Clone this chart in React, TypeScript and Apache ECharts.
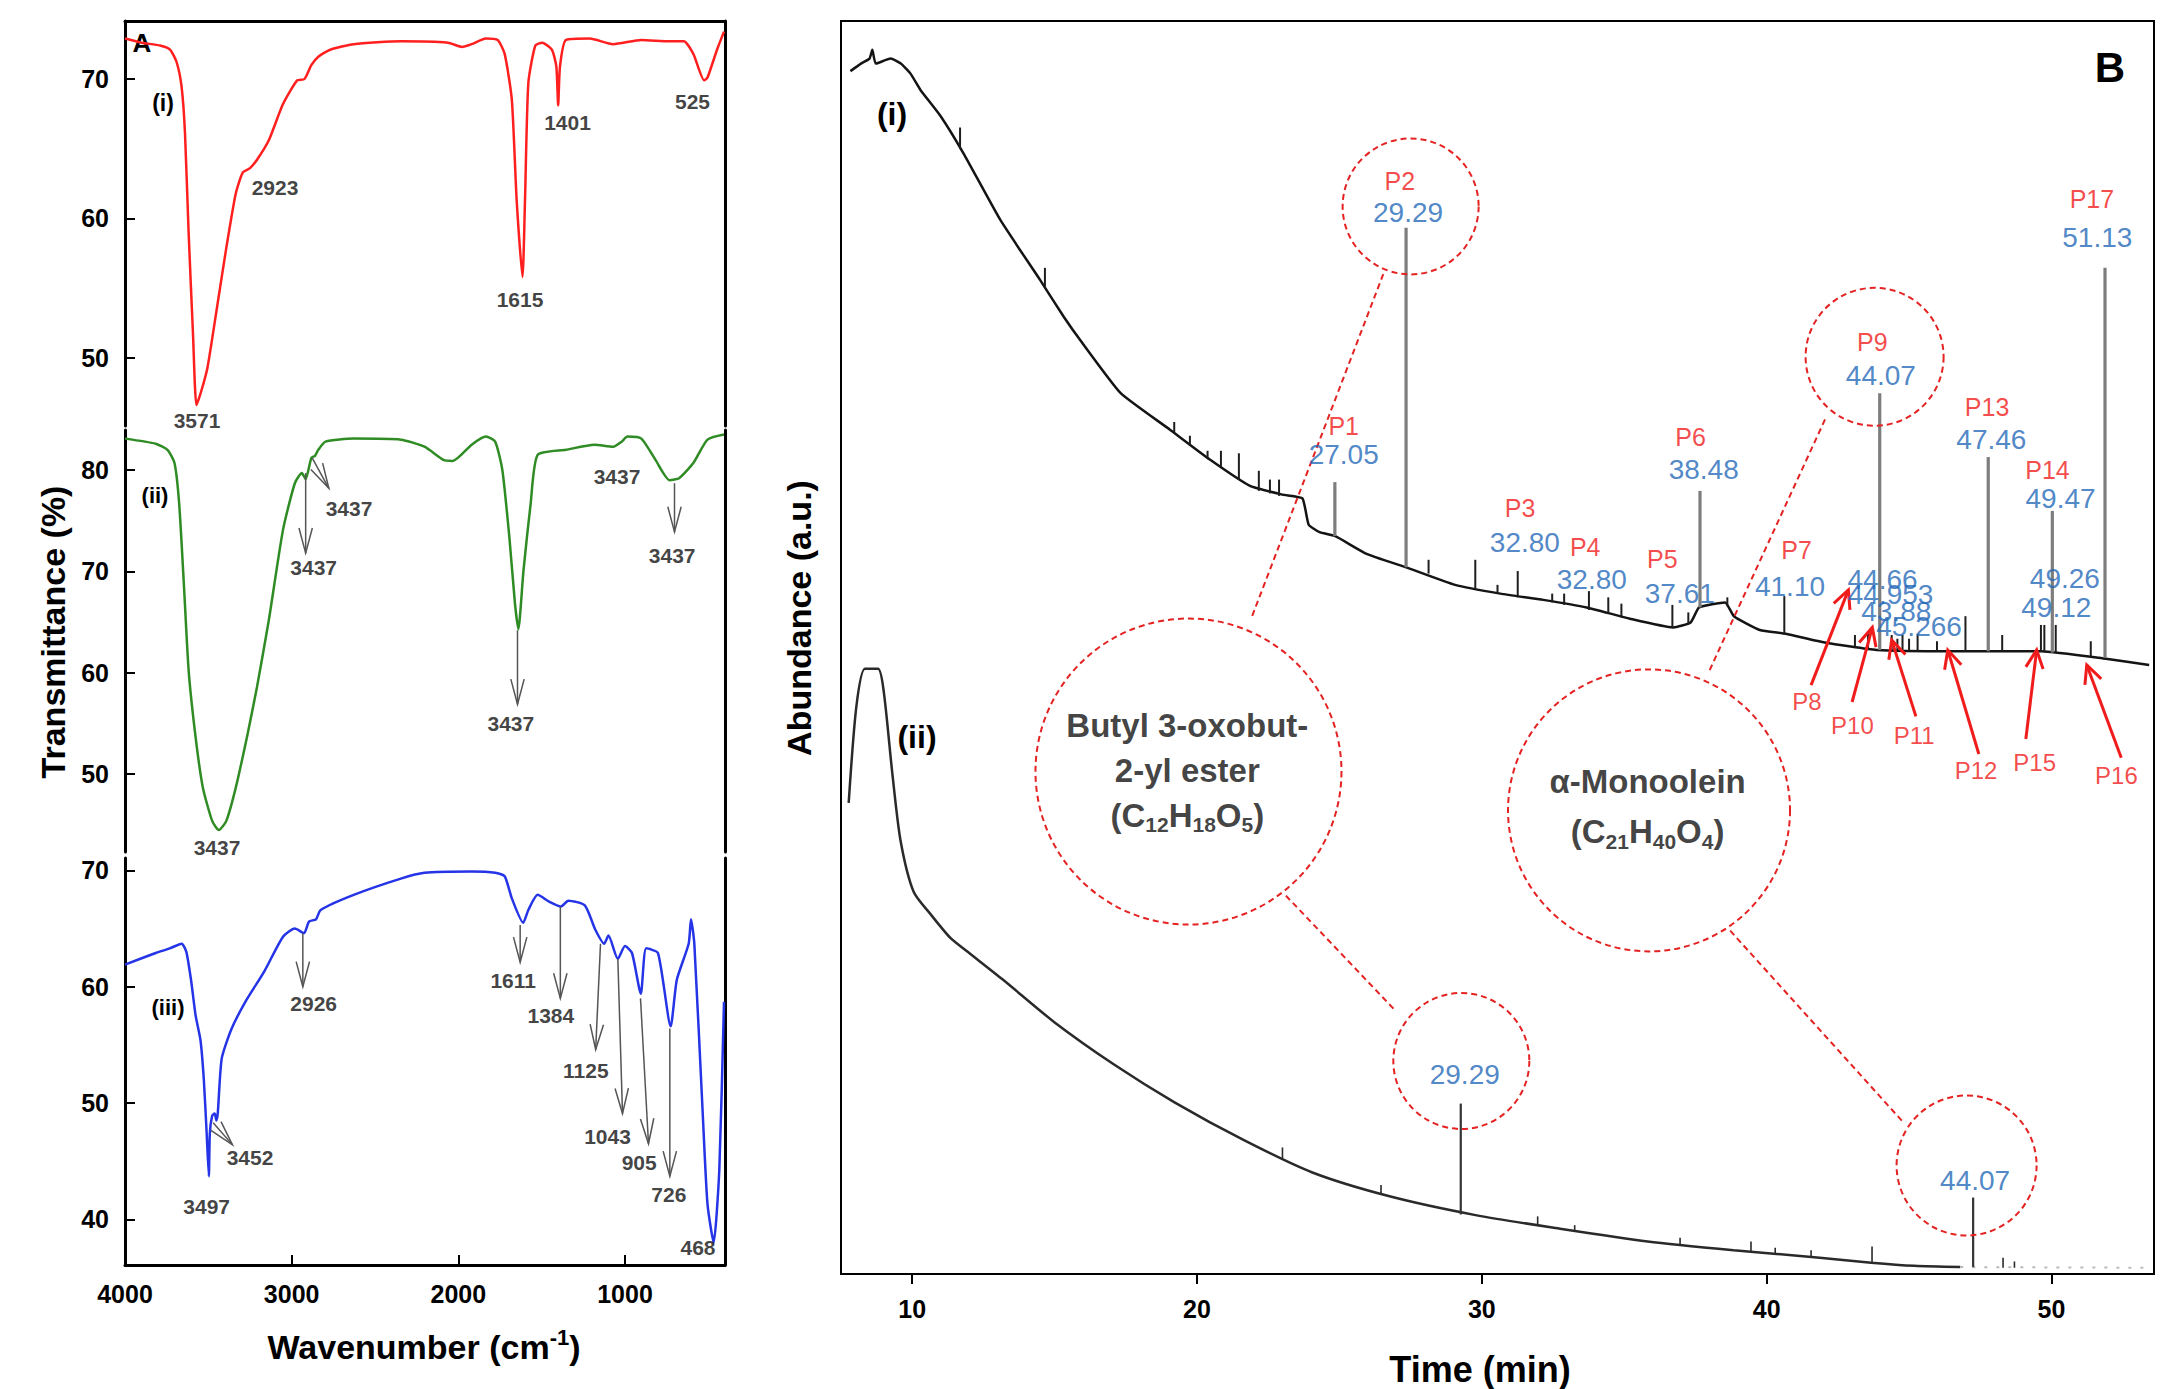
import React, { useEffect, useRef } from "react";
import * as echarts from "echarts";

const FONT = '"Liberation Sans", Arial, Helvetica, sans-serif';

// ---------- Panel A: FTIR spectra ----------
const wavenumberTicks = [1000, 2000, 3000, 4000];
const transTicksI = [50, 60, 70];
const transTicksII = [50, 60, 70, 80];
const transTicksIII = [40, 50, 60, 70];

// [wavenumber (cm-1), transmittance (%)]
const ftirSpectrumI = [
  [4000, 72.9], [3900, 72.6], [3790, 72.4], [3730, 72.1], [3690, 71.2], [3660, 69.4], [3640, 66.1],
  [3618, 58.9], [3592, 51.7], [3571, 46.6], [3540, 47.7], [3505, 49.3], [3448, 53.6], [3392, 57.9],
  [3335, 61.8], [3293, 63.3], [3250, 63.6], [3208, 64.2], [3137, 65.6], [3052, 68.2], [2967, 69.9],
  [2923, 70.0], [2882, 71.0], [2840, 71.6], [2769, 72.1], [2628, 72.5], [2345, 72.7], [2062, 72.6],
  [1977, 72.3], [1920, 72.5], [1835, 72.9], [1764, 72.8], [1722, 71.8], [1679, 68.5], [1650, 61.3],
  [1615, 55.8], [1600, 61.3], [1580, 69.7], [1538, 72.4], [1496, 72.6], [1439, 72.1], [1412, 70.9],
  [1401, 68.1], [1390, 70.9], [1354, 72.8], [1213, 72.9], [1071, 72.5], [903, 72.8], [732, 72.7],
  [647, 72.7], [590, 71.8], [525, 69.9], [505, 70.1], [448, 72.1], [406, 73.4],
];

const ftirSpectrumII = [
  [4000, 83.1], [3816, 82.6], [3745, 82.0], [3703, 80.7], [3675, 76.7], [3646, 68.5], [3618, 60.2],
  [3576, 53.6], [3533, 48.7], [3477, 45.4], [3437, 44.5], [3392, 45.4], [3335, 48.7], [3264, 54.0],
  [3208, 58.6], [3137, 65.2], [3052, 74.1], [2981, 78.7], [2939, 79.7], [2916, 79.1], [2882, 81.2],
  [2860, 81.4], [2840, 82.0], [2797, 82.8], [2628, 83.1], [2345, 83.0], [2203, 82.3], [2090, 81.0],
  [2033, 80.9], [1920, 82.5], [1835, 83.3], [1779, 82.8], [1736, 80.0], [1694, 73.4], [1660, 66.8],
  [1640, 64.3], [1609, 70.1], [1566, 76.7], [1524, 81.5], [1354, 82.0], [1184, 82.5], [1071, 82.3],
  [1020, 82.8], [986, 83.3], [902, 83.1], [817, 81.0], [732, 79.0], [675, 79.2], [590, 80.7],
  [505, 83.0], [406, 83.5],
];

const ftirSpectrumIII = [
  [4000, 61.9], [3816, 62.9], [3731, 63.3], [3660, 63.7], [3632, 63.0], [3604, 60.6], [3576, 57.5],
  [3547, 55.4], [3527, 52.0], [3510, 47.4], [3497, 43.7], [3491, 47.4], [3477, 48.9], [3462, 49.1],
  [3452, 48.5], [3443, 49.2], [3420, 53.8], [3363, 56.3], [3278, 58.7], [3165, 61.3], [3052, 64.3],
  [2981, 65.0], [2926, 64.6], [2896, 65.6], [2854, 65.8], [2826, 66.6], [2628, 67.9], [2345, 69.3],
  [2203, 69.8], [1920, 69.9], [1779, 69.8], [1722, 69.5], [1679, 67.6], [1611, 65.5], [1580, 66.6],
  [1524, 67.9], [1453, 67.3], [1384, 66.9], [1340, 67.4], [1241, 67.0], [1178, 64.9], [1125, 63.7],
  [1099, 64.4], [1043, 62.4], [1000, 63.5], [958, 62.9], [905, 59.4], [873, 63.3], [802, 62.9],
  [726, 56.6], [689, 60.6], [618, 63.7], [604, 65.8], [584, 63.7], [533, 48.9], [505, 41.3],
  [468, 38.0], [434, 44.3], [406, 58.7],
];

// band labels: [wavenumber, transmittance, text]
const bandLabelsI = [
  [3568, 45.5, "3571"], [3100, 62.2, "2923"], [1630, 54.2, "1615"], [1345, 66.9, "1401"], [595, 68.4, "525"],
];
const bandLabelsII = [
  [3448, 42.8, "3437"], [2868, 70.4, "3437"], [2656, 76.2, "3437"], [1685, 55.0, "3437"],
  [1048, 79.4, "3437"], [717, 71.6, "3437"],
];
const bandLabelsIII = [
  [3510, 41.1, "3497"], [3250, 45.3, "3452"], [2868, 58.6, "2926"], [1671, 60.5, "1611"],
  [1445, 57.5, "1384"], [1235, 52.8, "1125"], [1105, 47.1, "1043"], [915, 44.9, "905"],
  [737, 42.1, "726"], [562, 37.6, "468"],
];

// band pointers: [from wavenumber, from %, to wavenumber, to %]
const bandArrowsII = [
  [2916, 79.7, 2916, 71.8], [2877, 81.2, 2777, 78.2], [1645, 64.2, 1645, 56.9], [703, 78.7, 703, 73.9],
];
const bandArrowsIII = [
  [2933, 64.6, 2933, 60.0], [3471, 48.3, 3355, 46.4], [1629, 65.3, 1629, 62.1], [1388, 66.9, 1388, 59.0],
  [1147, 63.7, 1176, 54.6], [1043, 62.4, 1015, 49.1], [907, 59.0, 859, 46.5], [731, 56.4, 731, 43.7],
];

// ---------- Panel B: GC chromatograms ----------
const timeTicks = [10, 20, 30, 40, 50];

// [time (min), abundance (a.u.)]
const chromTraceI = [
  [7.83, 96.0], [8.2, 96.6], [8.5, 97.0], [8.6, 97.7], [8.72, 96.6], [9.24, 97.0], [9.6, 96.6],
  [9.94, 95.8], [10.29, 94.5], [11.0, 92.4], [11.81, 89.4], [13.1, 84.1], [14.5, 79.3],
  [15.32, 76.4], [15.91, 74.5], [17.32, 70.3], [19.04, 67.4], [20.45, 65.0], [21.86, 62.9],
  [23.0, 62.2], [23.7, 61.9], [23.92, 59.8], [24.3, 59.2], [24.84, 58.9], [25.93, 57.5],
  [27.34, 56.4], [29.06, 55.0], [30.65, 54.3], [32.16, 53.8], [33.68, 53.2], [35.2, 52.3],
  [36.72, 51.6], [37.33, 52.0], [37.63, 53.2], [38.54, 53.6], [38.85, 52.5], [39.76, 51.4],
  [40.67, 51.1], [42.04, 50.4], [43.86, 49.8], [46.59, 49.7], [49.64, 49.7], [51.91, 49.1],
  [53.43, 48.6],
];
const chromTraceII = [
  [7.77, 37.6], [8.04, 45.3], [8.34, 48.3], [8.8, 48.3], [9.0, 46.5], [9.3, 40.0], [9.59, 34.6],
  [10.05, 30.5], [10.65, 28.7], [11.35, 26.8], [11.9, 25.8], [13.18, 23.5], [14.99, 20.1],
  [17.1, 16.7], [19.21, 13.7], [21.63, 10.7], [24.05, 8.1], [26.76, 6.2], [29.78, 4.7],
  [32.8, 3.6], [35.82, 2.6], [38.84, 1.9], [41.86, 1.3], [43.67, 0.9], [45.18, 0.65], [46.8, 0.55],
];
const chromTailII = [[46.8, 0.55], [53.4, 0.5]];

// peaks: [time, foot, apex]
const majorPeaksI = [
  [24.84, 58.9, 63.2], [27.34, 56.4, 83.5], [37.66, 53.2, 62.5], [43.97, 49.8, 70.3],
  [47.78, 49.7, 65.2], [50.03, 49.6, 60.9], [51.88, 49.2, 80.3],
];
const minorPeaksI = [
  [11.68, 89.8, 91.5], [14.66, 78.8, 80.3], [19.2, 67.2, 68.0], [19.75, 66.1, 66.9], [20.37, 65.1, 65.7],
  [20.84, 64.4, 65.7], [21.47, 63.4, 65.5], [22.17, 62.5, 64.1], [22.56, 62.3, 63.4], [22.88, 62.1, 63.4],
  [28.13, 55.9, 57.0], [29.77, 54.7, 57.0], [30.55, 54.3, 55.0], [31.26, 54.0, 56.1], [32.47, 53.6, 54.3],
  [32.89, 53.4, 54.3], [33.76, 53.0, 54.5], [34.44, 52.7, 54.0], [34.9, 52.4, 53.5], [36.69, 51.6, 53.4],
  [37.25, 51.9, 52.8], [38.62, 53.3, 54.0], [40.62, 51.1, 54.1], [43.1, 50.0, 51.0], [43.56, 49.9, 51.3],
  [44.39, 49.8, 51.0], [44.59, 49.8, 50.7], [44.77, 49.8, 51.0], [45.0, 49.7, 50.7], [45.3, 49.7, 51.1],
  [45.98, 49.7, 50.5], [46.98, 49.7, 52.5], [48.27, 49.7, 51.0], [49.63, 49.7, 51.8], [49.75, 49.7, 51.8],
  [50.15, 49.6, 51.8], [51.38, 49.3, 50.5],
];
const majorPeaksII = [[29.26, 4.75, 13.6], [47.25, 0.55, 6.1]];
const minorPeaksII = [
  [23.0, 9.2, 10.1], [26.46, 6.4, 7.1], [31.96, 3.9, 4.6], [33.26, 3.4, 3.9], [36.96, 2.35, 2.9],
  [39.45, 1.75, 2.6], [40.3, 1.55, 2.1], [41.56, 1.35, 1.9], [43.7, 0.9, 2.2], [48.3, 0.5, 1.3],
  [48.7, 0.5, 1.0],
];

// peak tags and retention times: [time, abundance, text]
const peakTags = [
  [25.15, 67.7, "P1"], [27.12, 87.2, "P2"], [31.34, 61.1, "P3"], [33.63, 58.0, "P4"], [36.34, 57.1, "P5"],
  [37.33, 66.8, "P6"], [41.05, 57.8, "P7"], [43.71, 74.4, "P9"], [47.74, 69.2, "P13"], [49.86, 64.2, "P14"],
  [51.42, 85.8, "P17"],
];
const pointedTags = [
  [41.41, 45.7, "P8"], [43.01, 43.8, "P10"], [45.18, 43.0, "P11"], [47.35, 40.2, "P12"],
  [49.41, 40.8, "P15"], [52.28, 39.8, "P16"],
];
const retentionTimes = [
  [25.15, 65.4, "27.05"], [27.41, 84.7, "29.29"], [31.51, 58.4, "32.80"], [33.86, 55.4, "32.80"],
  [36.95, 54.3, "37.61"], [37.79, 64.2, "38.48"], [40.82, 54.9, "41.10"], [44.01, 71.7, "44.07"],
  [47.89, 66.6, "47.46"], [50.32, 61.9, "49.47"], [51.61, 82.7, "51.13"], [44.07, 55.4, "44.66"],
  [44.35, 54.2, "44.953"], [44.55, 52.9, "43.88"], [45.35, 51.7, "45.266"], [50.47, 55.5, "49.26"],
  [50.17, 53.2, "49.12"], [29.4, 15.9, "29.29"], [47.32, 7.5, "44.07"],
];
// red pointers: [from time, from abundance, to time, to abundance]
const tagArrows = [
  [41.56, 47.0, 42.87, 54.6], [43.0, 45.65, 43.71, 51.6], [45.24, 44.5, 44.39, 50.6],
  [47.45, 41.5, 46.36, 49.8], [49.1, 42.7, 49.48, 49.8], [52.45, 41.2, 51.24, 48.6],
];
// callouts
const calloutCircles = [
  { at: [27.5, 85.2], radius: 68 }, { at: [43.79, 73.2], radius: 69 },
  { at: [19.7, 40.1], radius: 153 }, { at: [35.87, 37.0], radius: 141 },
  { at: [29.28, 17.0], radius: 68 }, { at: [47.02, 8.66], radius: 70 },
];
const calloutLinks = [
  [26.54, 79.8, 21.9, 52.3], [23.12, 30.2, 26.93, 21.1], [42.05, 68.2, 38.0, 48.2], [38.72, 27.4, 44.82, 12.05],
];
const compoundNames = [
  [19.66, 43.8, "Butyl 3-oxobut-"], [19.66, 40.2, "2-yl ester"], [35.82, 39.3, "α-Monoolein"],
];
const compoundFormulas = [
  [19.66, 36.6, "{t|(C}{s|12}{t|H}{s|18}{t|O}{s|5}{t|)}"],
  [35.82, 35.3, "{t|(C}{s|21}{t|H}{s|40}{t|O}{s|4}{t|)}"],
];

// ---------- helpers ----------
const RED = "#ff1f1f";
const GREEN = "#2f8b24";
const BLUE = "#2434e6";
const TAG_RED = "#f01c1c";
const TIME_BLUE = "#2468b8";

function textSeries(xi: number, yi: number, items: any[], label: any, z = 10) {
  return {
    type: "scatter",
    xAxisIndex: xi,
    yAxisIndex: yi,
    symbolSize: 1,
    clip: false,
    silent: true,
    z,
    itemStyle: { color: "rgba(0,0,0,0)" },
    label: { show: true, position: "inside", fontFamily: FONT, ...label },
    data: items.map((d) => ({ value: [d[0], d[1]], label: { formatter: d[2] } })),
  };
}

function arrowSeries(xi: number, yi: number, items: number[][], color: string, width: number, head: number, spread: number) {
  return {
    type: "custom",
    xAxisIndex: xi,
    yAxisIndex: yi,
    silent: true,
    clip: false,
    z: 8,
    data: items,
    encode: { x: [0, 2], y: [1, 3] },
    renderItem: (_p: any, api: any) => {
      const a = api.coord([api.value(0), api.value(1)]);
      const b = api.coord([api.value(2), api.value(3)]);
      const ang = Math.atan2(b[1] - a[1], b[0] - a[0]);
      const p1 = [b[0] - head * Math.cos(ang - spread), b[1] - head * Math.sin(ang - spread)];
      const p2 = [b[0] - head * Math.cos(ang + spread), b[1] - head * Math.sin(ang + spread)];
      return {
        type: "group",
        children: [
          { type: "line", shape: { x1: a[0], y1: a[1], x2: b[0], y2: b[1] }, style: { stroke: color, lineWidth: width } },
          { type: "polyline", shape: { points: [p1, b, p2] }, style: { stroke: color, lineWidth: width, fill: "none" } },
        ],
      };
    },
  };
}

function peakSeries(items: number[][], color: string, width: number) {
  return {
    type: "custom",
    xAxisIndex: 3,
    yAxisIndex: 6,
    silent: true,
    z: 4,
    data: items,
    encode: { x: 0, y: [1, 2] },
    renderItem: (_p: any, api: any) => {
      const a = api.coord([api.value(0), api.value(1)]);
      const b = api.coord([api.value(0), api.value(2)]);
      return { type: "line", shape: { x1: a[0], y1: a[1], x2: b[0], y2: b[1] }, style: { stroke: color, lineWidth: width } };
    },
  };
}

const frameLine = { show: true, onZero: false, lineStyle: { color: "#000", width: 3 } };
const tickFont = { fontSize: 25, fontWeight: "bold", color: "#000", fontFamily: FONT };
const plainNumber = (v: number) => String(v);

function ftirYAxes(grid: number, min: number, max: number, ticks: number[]) {
  return [
    {
      gridIndex: grid, type: "value", min, max,
      axisLine: frameLine,
      axisTick: { show: true, inside: true, length: 10, customValues: ticks, lineStyle: { color: "#000", width: 2 } },
      axisLabel: { ...tickFont, margin: 16, customValues: ticks, formatter: plainNumber },
      splitLine: { show: false },
    },
    {
      gridIndex: grid, type: "value", min, max, position: "right",
      axisLine: frameLine, axisTick: { show: false }, axisLabel: { show: false }, splitLine: { show: false },
    },
  ];
}

function ftirLine(idx: number, data: number[][], color: string) {
  return {
    type: "line", xAxisIndex: idx, yAxisIndex: idx * 2, data, symbol: "none", showSymbol: false,
    smooth: 0.2, silent: true, z: 3,
    lineStyle: { color, width: 2.5 },
  };
}

const bandLabelStyle = { fontSize: 21, fontWeight: "bold", color: "#111" };

function buildOption() {
  return {
    animation: false,
    backgroundColor: "#fff",
    grid: [
      { left: 125, top: 21, width: 600, height: 405, outerBoundsMode: "none" },
      { left: 125, top: 430, width: 600, height: 422, outerBoundsMode: "none" },
      { left: 125, top: 858, width: 600, height: 407, outerBoundsMode: "none" },
      { left: 841, top: 21, width: 1313, height: 1253, show: true, borderColor: "#000", borderWidth: 2, outerBoundsMode: "none" },
    ],
    xAxis: [
      {
        gridIndex: 0, type: "value", min: 400, max: 4000, inverse: true, position: "top",
        axisLine: frameLine, axisTick: { show: false }, axisLabel: { show: false }, splitLine: { show: false },
      },
      { gridIndex: 1, type: "value", min: 400, max: 4000, inverse: true, show: false },
      {
        gridIndex: 2, type: "value", min: 400, max: 4000, inverse: true, position: "bottom",
        axisLine: frameLine,
        axisTick: { show: true, inside: true, length: 10, customValues: wavenumberTicks, lineStyle: { color: "#000", width: 2 } },
        axisLabel: { ...tickFont, margin: 16, customValues: wavenumberTicks, formatter: plainNumber },
        splitLine: { show: false },
      },
      {
        gridIndex: 3, type: "value", min: 7.5, max: 53.6,
        axisLine: { show: true, onZero: false, lineStyle: { color: "#000", width: 2 } },
        axisTick: { show: true, length: 10, customValues: timeTicks, lineStyle: { color: "#000", width: 2 } },
        axisLabel: { ...tickFont, margin: 22, customValues: timeTicks, formatter: plainNumber },
        splitLine: { show: false },
      },
    ],
    yAxis: [
      ...ftirYAxes(0, 45.1, 74.16, transTicksI),
      ...ftirYAxes(1, 42.33, 83.95, transTicksII),
      ...ftirYAxes(2, 36.07, 71.07, transTicksIII),
      {
        gridIndex: 3, type: "value", min: 0, max: 100,
        axisLine: { show: false }, axisTick: { show: false }, axisLabel: { show: false }, splitLine: { show: false },
      },
    ],
    series: [
      ftirLine(0, ftirSpectrumI, RED),
      ftirLine(1, ftirSpectrumII, GREEN),
      ftirLine(2, ftirSpectrumIII, BLUE),
      textSeries(0, 0, bandLabelsI, bandLabelStyle),
      textSeries(1, 2, bandLabelsII, bandLabelStyle),
      textSeries(2, 4, bandLabelsIII, bandLabelStyle),
      arrowSeries(1, 2, bandArrowsII, "#555", 1.5, 26, 0.26),
      arrowSeries(2, 4, bandArrowsIII, "#555", 1.5, 26, 0.26),

      {
        type: "line", xAxisIndex: 3, yAxisIndex: 6, data: chromTraceI, symbol: "none", silent: true,
        smooth: 0.15, z: 3, lineStyle: { color: "#141414", width: 2.5 },
      },
      {
        type: "line", xAxisIndex: 3, yAxisIndex: 6, data: chromTraceII, symbol: "none", silent: true,
        smooth: 0.25, z: 3, lineStyle: { color: "#2a2a2a", width: 2.5 },
      },
      {
        type: "line", xAxisIndex: 3, yAxisIndex: 6, data: chromTailII, symbol: "none", silent: true,
        z: 3, lineStyle: { color: "#bbb", width: 2, type: [3, 9] },
      },
      peakSeries(minorPeaksI, "#1e1e1e", 2),
      peakSeries(majorPeaksI, "#7d7d7d", 3.2),
      peakSeries(minorPeaksII, "#2a2a2a", 1.6),
      peakSeries(majorPeaksII, "#333", 2.2),

      {
        type: "custom", xAxisIndex: 3, yAxisIndex: 6, silent: true, clip: false, z: 6,
        data: calloutCircles.map((c) => c.at),
        encode: { x: 0, y: 1 },
        renderItem: (p: any, api: any) => {
          const c = api.coord([api.value(0), api.value(1)]);
          return {
            type: "circle",
            shape: { cx: c[0], cy: c[1], r: calloutCircles[p.dataIndex].radius },
            style: { fill: "none", stroke: "#e52222", lineWidth: 2, lineDash: [6, 4] },
          };
        },
      },
      {
        type: "custom", xAxisIndex: 3, yAxisIndex: 6, silent: true, clip: false, z: 6,
        data: calloutLinks,
        encode: { x: [0, 2], y: [1, 3] },
        renderItem: (_p: any, api: any) => {
          const a = api.coord([api.value(0), api.value(1)]);
          const b = api.coord([api.value(2), api.value(3)]);
          return {
            type: "line",
            shape: { x1: a[0], y1: a[1], x2: b[0], y2: b[1] },
            style: { stroke: "#e52222", lineWidth: 2, lineDash: [6, 4] },
          };
        },
      },
      arrowSeries(3, 6, tagArrows, "#f01c1c", 3, 20, 0.45),

      textSeries(3, 6, peakTags, { fontSize: 25, color: TAG_RED }),
      textSeries(3, 6, pointedTags, { fontSize: 24, color: TAG_RED }),
      textSeries(3, 6, retentionTimes, { fontSize: 28, color: TIME_BLUE }),
      textSeries(3, 6, compoundNames, { fontSize: 33, fontWeight: "bold", color: "#111" }),
      textSeries(3, 6, compoundFormulas, {
        color: "#111",
        rich: {
          t: { fontSize: 33, fontWeight: "bold", fontFamily: FONT, color: "#111", lineHeight: 40 },
          s: { fontSize: 21, fontWeight: "bold", fontFamily: FONT, color: "#111", lineHeight: 22, verticalAlign: "bottom" },
        },
      }),
    ],
    graphic: [
      {
        type: "text", x: 53, y: 632, rotation: Math.PI / 2, silent: true,
        style: { text: "Transmittance (%)", fontSize: 34, fontWeight: "bold", fontFamily: FONT, fill: "#000", align: "center", verticalAlign: "middle" },
      },
      {
        type: "text", x: 424, y: 1347, silent: true,
        style: {
          text: "{a|Wavenumber (cm}{b|-1}{a|)}", align: "center", verticalAlign: "middle", fill: "#000",
          rich: {
            a: { fontSize: 34, fontWeight: "bold", fontFamily: FONT, fill: "#000", lineHeight: 42 },
            b: { fontSize: 22, fontWeight: "bold", fontFamily: FONT, fill: "#000", lineHeight: 24, verticalAlign: "top" },
          },
        },
      },
      {
        type: "text", x: 799, y: 618, rotation: Math.PI / 2, silent: true,
        style: { text: "Abundance (a.u.)", fontSize: 34, fontWeight: "bold", fontFamily: FONT, fill: "#000", align: "center", verticalAlign: "middle" },
      },
      {
        type: "text", x: 1480, y: 1369, silent: true,
        style: { text: "Time (min)", fontSize: 36, fontWeight: "bold", fontFamily: FONT, fill: "#000", align: "center", verticalAlign: "middle" },
      },
      {
        type: "text", x: 142, y: 43, silent: true,
        style: { text: "A", fontSize: 26, fontWeight: "bold", fontFamily: FONT, fill: "#000", align: "center", verticalAlign: "middle" },
      },
      {
        type: "text", x: 2110, y: 67, silent: true,
        style: { text: "B", fontSize: 42, fontWeight: "bold", fontFamily: FONT, fill: "#000", align: "center", verticalAlign: "middle" },
      },
      {
        type: "text", x: 163, y: 103, silent: true,
        style: { text: "(i)", fontSize: 23, fontWeight: "bold", fontFamily: FONT, fill: "#000", align: "center", verticalAlign: "middle" },
      },
      {
        type: "text", x: 155, y: 495, silent: true,
        style: { text: "(ii)", fontSize: 22, fontWeight: "bold", fontFamily: FONT, fill: "#000", align: "center", verticalAlign: "middle" },
      },
      {
        type: "text", x: 168, y: 1007, silent: true,
        style: { text: "(iii)", fontSize: 22, fontWeight: "bold", fontFamily: FONT, fill: "#000", align: "center", verticalAlign: "middle" },
      },
      {
        type: "text", x: 892, y: 114, silent: true,
        style: { text: "(i)", fontSize: 32, fontWeight: "bold", fontFamily: FONT, fill: "#000", align: "center", verticalAlign: "middle" },
      },
      {
        type: "text", x: 917, y: 737, silent: true,
        style: { text: "(ii)", fontSize: 32, fontWeight: "bold", fontFamily: FONT, fill: "#000", align: "center", verticalAlign: "middle" },
      },
    ],
  };
}

export default function App() {
  const ref = useRef<HTMLDivElement>(null);
  useEffect(() => {
    document.body.style.margin = "0";
    document.body.style.overflow = "hidden";
    const chart = echarts.init(ref.current as HTMLDivElement, null, { renderer: "svg" });
    chart.setOption(buildOption() as any);
    return () => chart.dispose();
  }, []);
  return <div ref={ref} style={{ width: 2179, height: 1389, background: "#fff" }} />;
}
